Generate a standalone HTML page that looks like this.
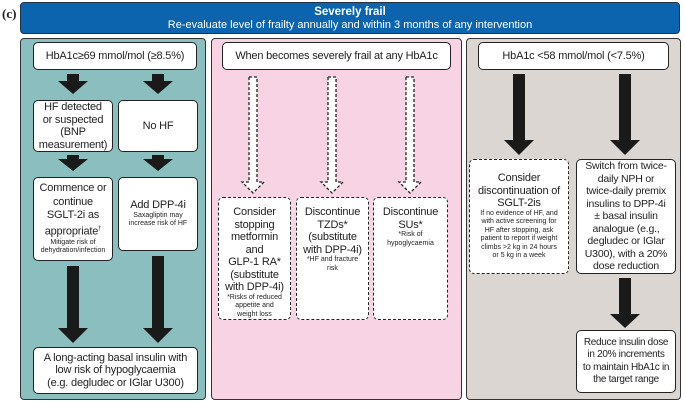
<!DOCTYPE html>
<html><head><meta charset="utf-8"><style>
*{margin:0;padding:0;box-sizing:border-box}
body{width:685px;height:402px;background:#fff;position:relative;overflow:hidden;font-family:"Liberation Sans",Arial,sans-serif;color:#222}
.a{position:absolute}
.p{position:absolute;border:1.5px solid #333;border-radius:4px}
.b{position:absolute;background:#fff;border:1.6px solid #222;border-radius:5px;display:flex;flex-direction:column;align-items:center;justify-content:center;text-align:center;font-size:11px;line-height:12.5px;letter-spacing:-0.2px;white-space:nowrap}
.d{border:1.6px dashed #222}
.s{font-size:7px;line-height:8.5px;letter-spacing:0}
svg{position:absolute;left:0;top:0}
</style></head><body>
<div class="a" style="left:2px;top:6px;font:bold 13px 'Liberation Serif',serif">(c)</div>
<div class="a" style="left:20px;top:2px;width:660px;height:32px;background:#0b64ad;border:1px solid #234;border-radius:4px;color:#fff;text-align:center;font-size:11px;line-height:13px;padding-top:3px"><b style="font-size:11.5px">Severely frail</b><br>Re-evaluate level of frailty annually and within 3 months of any intervention</div>
<div class="p" style="left:20px;top:38px;width:186px;height:362px;background:#8bbfbf"></div>
<div class="p" style="left:211px;top:38px;width:251px;height:362px;background:#f7d3e4"></div>
<div class="p" style="left:466px;top:38px;width:215px;height:362px;background:#dbd6d1"></div>
<svg width="685" height="402">
<g fill="#1a1a1a">
<path d="M67 74h12v7h9l-15 13l-15-13h9z"/>
<path d="M152 74h12v7h9l-15 13l-15-13h9z"/>
<path d="M67 155h12v4h9l-15 12l-15-12h9z"/>
<path d="M152 155h12v4h9l-15 12l-15-12h9z"/>
<path d="M67 266h12v62h9l-15 15l-15-15h9z"/>
<path d="M152 256h12v72h9l-15 15l-15-15h9z"/>
<path d="M513 74h12v66h9l-15 15l-15-15h9z"/>
<path d="M619 74h12v66h9l-15 15l-15-15h9z"/>
<path d="M619 278h12v36h9l-15 14l-15-14h9z"/>
</g>
<g fill="#fff" stroke="#222" stroke-width="1.3" stroke-dasharray="3,2">
<path d="M249 77h8v105h7l-11 11l-11-11h7z"/>
<path d="M328 77h8v105h7l-11 11l-11-11h7z"/>
<path d="M406 77h8v105h7l-11 11l-11-11h7z"/>
</g>
</svg>
<div class="b" style="left:33px;top:42px;width:164px;height:28px">HbA1c≥69 mmol/mol (≥8.5%)</div>
<div class="b" style="left:222px;top:42px;width:229px;height:28px">When becomes severely frail at any HbA1c</div>
<div class="b" style="left:478px;top:42px;width:191px;height:28px">HbA1c &lt;58 mmol/mol (&lt;7.5%)</div>
<div class="b" style="left:33px;top:100px;width:80px;height:52px">HF detected<br>or suspected<br>(BNP<br>measurement)</div>
<div class="b" style="left:118px;top:100px;width:80px;height:52px">No HF</div>
<div class="b" style="left:33px;top:177px;width:80px;height:84px"><span style="line-height:13.5px">Commence or<br>continue<br>SGLT-2i as<br>appropriate<sup style="font-size:6px">†</sup></span><span class="s">Mitigate risk of<br>dehydration/infection</span></div>
<div class="b" style="left:118px;top:177px;width:80px;height:74px">Add DPP-4i<span class="s">Saxagliptin may<br>increase risk of HF</span></div>
<div class="b" style="left:33px;top:347px;width:165px;height:47px">A long-acting basal insulin with<br>low risk of hypoglycaemia<br>(e.g. degludec or IGlar U300)</div>
<div class="b d" style="left:218px;top:197px;width:73px;height:123px;justify-content:flex-start;padding-top:8px">Consider<br>stopping<br>metformin<br>and<br>GLP-1 RA*<br>(substitute<br>with DPP-4i)<span class="s">*Risks of reduced<br>appetite and<br>weight loss</span></div>
<div class="b d" style="left:296px;top:197px;width:73px;height:123px;justify-content:flex-start;padding-top:8px">Discontinue<br>TZDs*<br>(substitute<br>with DPP-4i)<span class="s">*HF and fracture<br>risk</span></div>
<div class="b d" style="left:373px;top:197px;width:75px;height:123px;justify-content:flex-start;padding-top:8px">Discontinue<br>SUs*<span class="s">*Risk of<br>hypoglycaemia</span></div>
<div class="b d" style="left:469px;top:159px;width:100px;height:115px">Consider<br>discontinuation of<br>SGLT-2is<span class="s">If no evidence of HF, and<br>with active screening for<br>HF after stopping, ask<br>patient to report if weight<br>climbs &gt;2 kg in 24 hours<br>or 5 kg in a week</span></div>
<div class="b" style="left:576px;top:159px;width:100px;height:115px;font-size:10.5px">Switch from twice-<br>daily NPH or<br>twice-daily premix<br>insulins to DPP-4i<br>± basal insulin<br>analogue (e.g.,<br>degludec or IGlar<br>U300), with a 20%<br>dose reduction</div>
<div class="b" style="left:576px;top:330px;width:100px;height:63px;font-size:10px;letter-spacing:-0.3px">Reduce insulin dose<br>in 20% increments<br>to maintain HbA1c in<br>the target range</div>
</body></html>
